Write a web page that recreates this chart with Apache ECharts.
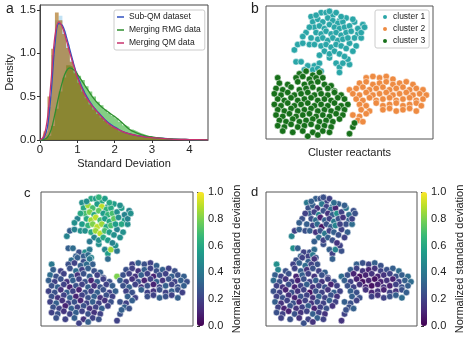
<!DOCTYPE html>
<html>
<head>
<meta charset="utf-8">
<script src="https://cdn.jsdelivr.net/npm/echarts@6/dist/echarts.min.js"></script>
<style>
  html, body { margin: 0; padding: 0; background: #fff; }
  #chart { width: 474px; height: 338px; }
</style>
</head>
<body>
<div id="chart"></div>
<script>
// ---- panel a: histogram bins (centres) and densities ----
var histBins = [0.05,0.15,0.25,0.35,0.45,0.55,0.65,0.75,0.85,0.95,
  1.05,1.15,1.25,1.35,1.45,1.55,1.65,1.75,1.85,1.95,
  2.05,2.15,2.25,2.35,2.45,2.55,2.65,2.75,2.85,2.95,
  3.05,3.15,3.25,3.35,3.45,3.55,3.65,3.75,3.85,3.95,
  4.05,4.15,4.25,4.35,4.45];
var subQmHist = [0,0.06,0.38,0.98,1.38,1.43,1.26,1.1,0.92,0.78,
  0.68,0.58,0.49,0.42,0.37,0.32,0.27,0.23,0.19,0.16,
  0.14,0.11,0.095,0.08,0.07,0.06,0.05,0.045,0.04,0.032,
  0.027,0.022,0.02,0.016,0.013,0.011,0.009,0.008,0.007,0.006,
  0.005,0.004,0.003,0.003,0.002];
var rmgHist = [0,0.01,0.05,0.16,0.36,0.56,0.72,0.86,0.84,0.79,
  0.74,0.69,0.62,0.56,0.5,0.44,0.4,0.35,0.31,0.28,
  0.25,0.21,0.17,0.15,0.12,0.1,0.08,0.065,0.05,0.04,
  0.035,0.03,0.025,0.02,0.017,0.014,0.012,0.01,0.008,0.007,
  0.006,0.005,0.004,0.003,0.003];
var qmHist = [0,0.1,0.5,1.05,1.47,1.38,1.22,1.06,0.9,0.77,
  0.66,0.56,0.48,0.41,0.35,0.3,0.26,0.22,0.18,0.15,
  0.13,0.1,0.09,0.075,0.065,0.055,0.047,0.04,0.035,0.03,
  0.025,0.02,0.018,0.015,0.012,0.01,0.009,0.008,0.007,0.006,
  0.005,0.004,0.003,0.003,0.002];

// kde curves
var kdeX = [0,0.1,0.2,0.3,0.4,0.5,0.6,0.7,0.8,0.9,1.0,1.2,1.4,1.6,1.8,2.0,2.2,2.4,2.6,2.8,3.0,3.5,4.0,4.5];
var subQmKde = [0,0.02,0.15,0.55,1.1,1.34,1.32,1.2,1.04,0.88,0.74,0.54,0.4,0.3,0.21,0.15,0.1,0.07,0.05,0.04,0.03,0.012,0.005,0.002];
var rmgKde = [0,0.005,0.03,0.12,0.3,0.5,0.67,0.79,0.83,0.81,0.76,0.63,0.5,0.4,0.33,0.27,0.2,0.12,0.08,0.05,0.035,0.012,0.005,0.002];
var qmKde = [0,0.04,0.25,0.7,1.2,1.36,1.3,1.16,1.0,0.86,0.72,0.52,0.39,0.29,0.2,0.14,0.1,0.07,0.05,0.037,0.028,0.011,0.005,0.002];

var xTicksA = [0, 1, 2, 3, 4];
var yTicksA = [0, 0.5, 1.0, 1.5];
var cbTicks = [0, 0.2, 0.4, 0.6, 0.8, 1.0];

// ---- panels b-d: embedding (0-100 box units), cluster labels, normalized std ----
var cluster1Pts = [
  [33,95],[36,95],[27,92],[40,93],[48,91],[44,89],[58,86],
  [55,79],[53,76],[57,76],[50,72],[54,70],
  [17,67],[19,71],[22,72],[26,71],[18,58],[21,58],[25,55],[29,55],[32,57],[28,52],[31,53],[33,51],[23,52],
  [38,61],[42,57],[44,54],[46,57],[50,56],[44,50],[49,60],
  [28,88],[31,90],[34,88],[37,91],[40,89],[43,87],[46,88],
  [29,84],[32,85],[35,83],[38,86],[41,84],[44,83],[47,84],[50,85],
  [30,80],[33,79],[36,81],[39,79],[42,80],[45,78],[48,80],[51,81],
  [27,76],[31,75],[34,76],[37,74],[40,76],[43,74],[46,75],[49,76],
  [29,71],[33,70],[36,71],[39,69],[42,71],[45,70],[48,68],
  [35,66],[38,64],[41,66],[44,64],[47,62],[32,63],[52,66],
  [55,83],[53,88],[24,80],[22,77],[26,84],
  [30,93],[42,95],[38,96],[45,92],[52,90],[57,80],[59,84]
];
var cluster2Pts = [
  [60,46],[64,47],[68,46],[72,47],[76,45],
  [56,42],[60,43],[64,41],[68,42],[72,43],[76,41],[80,42],[84,43],[88,41],
  [50,37],[54,38],[58,39],[62,37],[66,38],[70,39],[74,37],[78,38],[82,39],[86,37],[90,38],[94,37],
  [52,34],[56,33],[60,35],[64,33],[68,34],[72,35],[76,33],[80,34],[84,35],[88,33],[92,34],[96,33],
  [54,30],[58,29],[62,31],[66,29],[70,30],[74,31],[78,29],[82,30],[86,31],[90,29],[94,30],
  [56,26],[60,25],[66,27],[70,25],[74,26],[78,27],[82,25],[86,26],[90,27],[93,25],
  [57,22],[62,21],[70,22],[74,23],[78,21],[82,22],[86,23],[90,21],
  [52,18],[56,17],[60,19],
  [55,14],[58,13]
];
var cluster3Pts = [
  [20,49],[24,51],[28,48],[32,50],[26,45],[18,46],[34,46],[7,46],[22,47],[30,46],
  [8,42],[13,41],[19,43],[23,41],[27,42],[31,43],[35,41],[39,40],
  [6,38],[10,37],[15,39],[20,37],[24,38],[28,39],[32,37],[37,38],[41,36],
  [5,34],[9,33],[13,35],[17,33],[21,34],[25,35],[29,33],[33,34],[37,33],[41,35],[45,33],
  [7,30],[11,29],[15,31],[19,29],[23,30],[27,31],[31,29],[35,30],[39,29],[43,31],[47,30],
  [5,26],[9,25],[13,27],[17,25],[21,26],[25,27],[29,25],[33,26],[37,25],[41,27],[45,25],[49,26],
  [7,22],[11,21],[15,23],[19,21],[23,22],[27,23],[31,21],[35,22],[39,21],[43,23],[47,22],
  [6,18],[10,17],[14,19],[18,17],[22,18],[26,19],[30,17],[34,18],[38,17],[42,19],[46,18],
  [8,14],[12,13],[16,15],[20,13],[24,14],[28,15],[32,13],[36,14],[40,13],[44,15],
  [7,10],[11,9],[15,11],[19,9],[23,10],[27,11],[31,9],[35,10],[39,9],
  [10,6],[16,5],[22,6],[28,5],[34,6],[38,5],[25,2],[31,3],
  [52,9],[50,4],[53,12]
];

// panel c values
var cluster1C = [0.6,0.55,0.5,0.6,0.55,0.5,0.45,
  0.55,0.6,0.5,0.45,0.5,
  0.45,0.3,0.45,0.5,0.3,0.35,0.25,0.5,0.4,0.3,0.35,0.45,0.3,
  0.5,0.45,0.55,0.85,0.4,0.35,0.5,
  0.6,0.85,0.7,0.55,0.9,0.65,0.6,
  0.7,0.8,0.6,0.75,0.55,0.65,0.7,0.5,
  0.6,0.85,0.9,0.7,0.55,0.6,0.75,0.5,
  0.55,0.65,0.8,0.9,0.85,0.6,0.7,0.55,
  0.5,0.6,0.85,0.9,0.7,0.55,0.5,
  0.45,0.5,0.6,0.55,0.45,0.4,0.5,
  0.45,0.55,0.45,0.5,0.6,
  0.5,0.55,0.65,0.6,0.5,0.45,0.5];
var cluster2C = [0.2,0.3,0.25,0.2,0.3,
  0.25,0.2,0.15,0.3,0.2,0.25,0.3,0.2,0.25,
  0.8,0.25,0.2,0.15,0.3,0.2,0.1,0.25,0.2,0.3,0.25,0.3,
  0.3,0.2,0.15,0.25,0.1,0.2,0.3,0.15,0.25,0.2,0.3,0.25,
  0.25,0.3,0.2,0.15,0.25,0.1,0.2,0.3,0.2,0.25,0.3,
  0.2,0.25,0.3,0.2,0.15,0.25,0.2,0.3,0.25,0.2,
  0.3,0.2,0.25,0.2,0.3,0.25,0.2,0.3,
  0.25,0.2,0.3,
  0.3,0.25];
var cluster3C = [0.35,0.3,0.25,0.4,0.3,0.25,0.3,0.4,0.2,0.35,
  0.3,0.2,0.25,0.35,0.2,0.3,0.25,0.3,
  0.35,0.25,0.2,0.3,0.15,0.25,0.3,0.2,0.25,
  0.3,0.2,0.25,0.15,0.3,0.2,0.25,0.1,0.3,0.2,0.25,
  0.25,0.3,0.2,0.1,0.25,0.2,0.3,0.15,0.25,0.2,0.3,
  0.2,0.25,0.15,0.3,0.2,0.1,0.25,0.2,0.3,0.25,0.2,0.3,
  0.25,0.15,0.2,0.3,0.1,0.2,0.25,0.3,0.15,0.25,0.2,
  0.2,0.3,0.15,0.2,0.25,0.1,0.2,0.3,0.2,0.15,0.25,
  0.25,0.2,0.1,0.3,0.2,0.25,0.15,0.2,0.3,0.2,
  0.2,0.25,0.15,0.2,0.3,0.2,0.25,0.15,0.2,
  0.25,0.2,0.3,0.15,0.2,0.25,0.2,0.3,
  0.25,0.2,0.3];

// panel d values
var cluster1D = [0.3,0.25,0.4,0.2,0.3,0.35,0.25,
  0.3,0.25,0.35,0.2,0.3,
  0.45,0.2,0.3,0.25,0.5,0.3,0.2,0.25,0.35,0.2,0.4,0.25,0.3,
  0.25,0.3,0.2,0.45,0.25,0.3,0.2,
  0.25,0.3,0.15,0.4,0.2,0.35,0.1,
  0.3,0.2,0.45,0.25,0.15,0.3,0.5,0.2,
  0.25,0.35,0.1,0.3,0.2,0.4,0.25,0.15,
  0.3,0.2,0.35,0.05,0.25,0.3,0.45,0.2,
  0.3,0.15,0.25,0.4,0.2,0.3,0.25,
  0.35,0.2,0.3,0.25,0.15,0.3,0.2,
  0.35,0.4,0.25,0.3,0.2,
  0.3,0.2,0.25,0.35,0.3,0.2,0.25];
var cluster2D = [0.3,0.25,0.2,0.3,0.25,
  0.3,0.2,0.15,0.1,0.15,0.2,0.25,0.3,0.35,
  0.35,0.25,0.1,0.05,0.1,0.15,0.1,0.15,0.2,0.25,0.3,0.35,
  0.3,0.2,0.1,0.05,0.1,0.05,0.1,0.15,0.1,0.2,0.3,0.35,
  0.25,0.2,0.15,0.1,0.05,0.1,0.15,0.1,0.2,0.25,0.3,
  0.3,0.25,0.15,0.1,0.15,0.1,0.2,0.15,0.25,0.3,
  0.3,0.25,0.2,0.15,0.2,0.25,0.3,0.35,
  0.3,0.25,0.2,
  0.25,0.3];
var cluster3D = [0.25,0.2,0.3,0.15,0.35,0.2,0.25,0.5,0.3,0.2,
  0.45,0.25,0.2,0.3,0.15,0.25,0.2,0.3,
  0.3,0.2,0.25,0.1,0.3,0.2,0.15,0.25,0.2,
  0.35,0.25,0.15,0.2,0.1,0.25,0.2,0.3,0.15,0.2,0.25,
  0.2,0.15,0.25,0.1,0.2,0.3,0.15,0.2,0.25,0.1,0.2,
  0.25,0.2,0.1,0.25,0.15,0.2,0.05,0.25,0.2,0.15,0.3,0.2,
  0.2,0.25,0.15,0.1,0.25,0.2,0.15,0.3,0.2,0.25,0.15,
  0.3,0.15,0.2,0.25,0.1,0.2,0.15,0.25,0.2,0.3,0.2,
  0.2,0.1,0.25,0.15,0.2,0.3,0.1,0.2,0.25,0.15,
  0.25,0.2,0.1,0.25,0.15,0.2,0.3,0.2,0.15,
  0.2,0.25,0.15,0.2,0.3,0.2,0.25,0.15,
  0.2,0.15,0.25];

var viridis = ['#440154','#482878','#3e4989','#31688e','#26828e','#1f9e89','#35b779','#6ece58','#b5de2b','#fde725'];
var font = 'Liberation Sans, Arial, sans-serif';
var ink = '#222';

function pairs(xs, ys) { return xs.map(function(x, i) { return [x, ys[i]]; }); }
function withVal(pts, vals) { return pts.map(function(p, i) { return [p[0], p[1], vals[i]]; }); }

var allPts = cluster1Pts.concat(cluster2Pts, cluster3Pts);
var cData = withVal(allPts, cluster1C.concat(cluster2C, cluster3C));
var dData = withVal(allPts, cluster1D.concat(cluster2D, cluster3D));

var chart = echarts.init(document.getElementById('chart'), null, { renderer: 'canvas' });

var boxAxis = function(idx, name) {
  return {
    type: 'value', gridIndex: idx, min: 0, max: 100,
    axisLine: { show: false }, axisTick: { show: false }, axisLabel: { show: false },
    splitLine: { show: false },
    name: name || '', nameLocation: 'middle', nameGap: 8,
    nameTextStyle: { fontSize: 11, color: ink, fontFamily: font }
  };
};

function histSeries(name, data, color) {
  return {
    type: 'line', name: name, xAxisIndex: 0, yAxisIndex: 0,
    data: pairs(histBins, data), step: 'middle', symbol: 'none', silent: true,
    lineStyle: { width: 0 }, areaStyle: { color: color, opacity: 1 }
  };
}
function kdeSeries(name, data, color) {
  return {
    type: 'line', name: name, xAxisIndex: 0, yAxisIndex: 0,
    data: pairs(kdeX, data), smooth: 0.35, symbol: 'none', silent: true,
    itemStyle: { color: color }, lineStyle: { color: color, width: 1.3 }
  };
}
function clusterSeries(name, pts, color) {
  return {
    type: 'scatter', name: name, xAxisIndex: 1, yAxisIndex: 1,
    data: pts, symbolSize: 6.5, silent: true,
    itemStyle: { color: color, borderColor: '#fff', borderWidth: 0.5, opacity: 1 }
  };
}
function cbAxis(idx) {
  return {
    type: 'value', gridIndex: idx, position: 'right', min: 0, max: 1,
    axisLine: { show: false },
    axisTick: { show: true, length: 3, customValues: cbTicks, lineStyle: { color: '#333' } },
    axisLabel: { fontSize: 11, color: ink, fontFamily: font, margin: 4, customValues: cbTicks,
      formatter: function(v) { return v.toFixed(1); } },
    splitLine: { show: false },
    name: 'Normalized standard deviation', nameLocation: 'middle', nameRotate: 90, nameGap: 27,
    nameTextStyle: { fontSize: 11, color: ink, fontFamily: font }
  };
}

chart.setOption({
  animation: false,
  textStyle: { fontFamily: font },
  title: [
    { text: 'a', left: 6, top: 2, padding: 0, textStyle: { fontSize: 14, fontWeight: 'normal', color: ink, fontFamily: font } },
    { text: 'b', left: 251, top: 2, padding: 0, textStyle: { fontSize: 14, fontWeight: 'normal', color: ink, fontFamily: font } },
    { text: 'c', left: 24, top: 187, padding: 0, textStyle: { fontSize: 13, fontWeight: 'normal', color: ink, fontFamily: font } },
    { text: 'd', left: 251, top: 186, padding: 0, textStyle: { fontSize: 13, fontWeight: 'normal', color: ink, fontFamily: font } }
  ],
  legend: [
    {
      data: ['Sub-QM dataset', 'Merging RMG data', 'Merging QM data'],
      left: 114, top: 10, orient: 'vertical', icon: 'rect', itemWidth: 7, itemHeight: 1.5,
      itemGap: 3, padding: [2, 4, 2, 3], borderColor: '#ccc', borderWidth: 1, borderRadius: 2,
      textStyle: { fontSize: 8.5, color: ink, fontFamily: font, lineHeight: 10 }
    },
    {
      data: ['cluster 1', 'cluster 2', 'cluster 3'],
      left: 375, top: 10, orient: 'vertical', icon: 'circle', itemWidth: 6, itemHeight: 6,
      itemGap: 2, padding: [2, 4, 2, 6], borderColor: '#ccc', borderWidth: 1, borderRadius: 2,
      textStyle: { fontSize: 8.5, color: ink, fontFamily: font, lineHeight: 10 }
    }
  ],
  grid: [
    { left: 40, top: 5, width: 168, height: 135, show: true, borderColor: '#444', borderWidth: 1 },
    { left: 266, top: 6, width: 167, height: 133, show: true, borderColor: '#555', borderWidth: 1 },
    { left: 41, top: 192, width: 152, height: 134, show: true, borderColor: '#555', borderWidth: 1 },
    { left: 266, top: 192, width: 151, height: 134, show: true, borderColor: '#555', borderWidth: 1 },
    { left: 197, top: 192, width: 7, height: 134 },
    { left: 421, top: 192, width: 6, height: 134 }
  ],
  xAxis: [
    {
      type: 'value', gridIndex: 0, min: 0, max: 4.5,
      axisLine: { show: true, lineStyle: { color: '#444' } },
      axisTick: { show: true, length: 3, customValues: xTicksA, lineStyle: { color: '#333' } },
      axisLabel: { fontSize: 11.5, color: ink, margin: 4, customValues: xTicksA },
      splitLine: { show: false },
      name: 'Standard Deviation', nameLocation: 'middle', nameGap: 18,
      nameTextStyle: { fontSize: 11, color: ink, fontFamily: font }
    },
    boxAxis(1, 'Cluster reactants'),
    boxAxis(2),
    boxAxis(3),
    { type: 'value', gridIndex: 4, show: false, min: 0, max: 1 },
    { type: 'value', gridIndex: 5, show: false, min: 0, max: 1 }
  ],
  yAxis: [
    {
      type: 'value', gridIndex: 0, min: 0, max: 1.555,
      axisLine: { show: true, lineStyle: { color: '#444' } },
      axisTick: { show: true, length: 3, customValues: yTicksA, lineStyle: { color: '#333' } },
      axisLabel: { fontSize: 11.5, color: ink, margin: 4, customValues: yTicksA,
        formatter: function(v) { return v.toFixed(1); } },
      splitLine: { show: false },
      name: 'Density', nameLocation: 'middle', nameGap: 25,
      nameTextStyle: { fontSize: 11, color: ink, fontFamily: font }
    },
    boxAxis(1),
    boxAxis(2),
    boxAxis(3),
    cbAxis(4),
    cbAxis(5)
  ],
  visualMap: [
    { type: 'continuous', seriesIndex: 9, dimension: 2, min: 0, max: 1, calculable: false,
      left: 197, top: 192, itemWidth: 7, itemHeight: 134, padding: 0, inRange: { color: viridis } },
    { type: 'continuous', seriesIndex: 10, dimension: 2, min: 0, max: 1, calculable: false,
      left: 421, top: 192, itemWidth: 6, itemHeight: 134, padding: 0, inRange: { color: viridis } }
  ],
  series: [
    histSeries('subQmHist', subQmHist, 'rgba(120,190,230,0.45)'),
    histSeries('rmgHist', rmgHist, 'rgba(50,175,50,0.6)'),
    histSeries('qmHist', qmHist, 'rgba(160,95,0,0.6)'),
    kdeSeries('Sub-QM dataset', subQmKde, '#3050c0'),
    kdeSeries('Merging RMG data', rmgKde, '#2f8f2f'),
    kdeSeries('Merging QM data', qmKde, '#c8336e'),
    clusterSeries('cluster 1', cluster1Pts, '#2aa6a8'),
    clusterSeries('cluster 2', cluster2Pts, '#ee8b42'),
    clusterSeries('cluster 3', cluster3Pts, '#17701a'),
    {
      type: 'scatter', name: 'c', xAxisIndex: 2, yAxisIndex: 2, data: cData, symbolSize: 6.5, silent: true,
      itemStyle: { borderColor: '#fff', borderWidth: 0.5, opacity: 1 }
    },
    {
      type: 'scatter', name: 'd', xAxisIndex: 3, yAxisIndex: 3, data: dData, symbolSize: 6.5, silent: true,
      itemStyle: { borderColor: '#fff', borderWidth: 0.5, opacity: 1 }
    }
  ]
});
window.addEventListener('resize', function() { chart.resize(); });
</script>
</body>
</html>
